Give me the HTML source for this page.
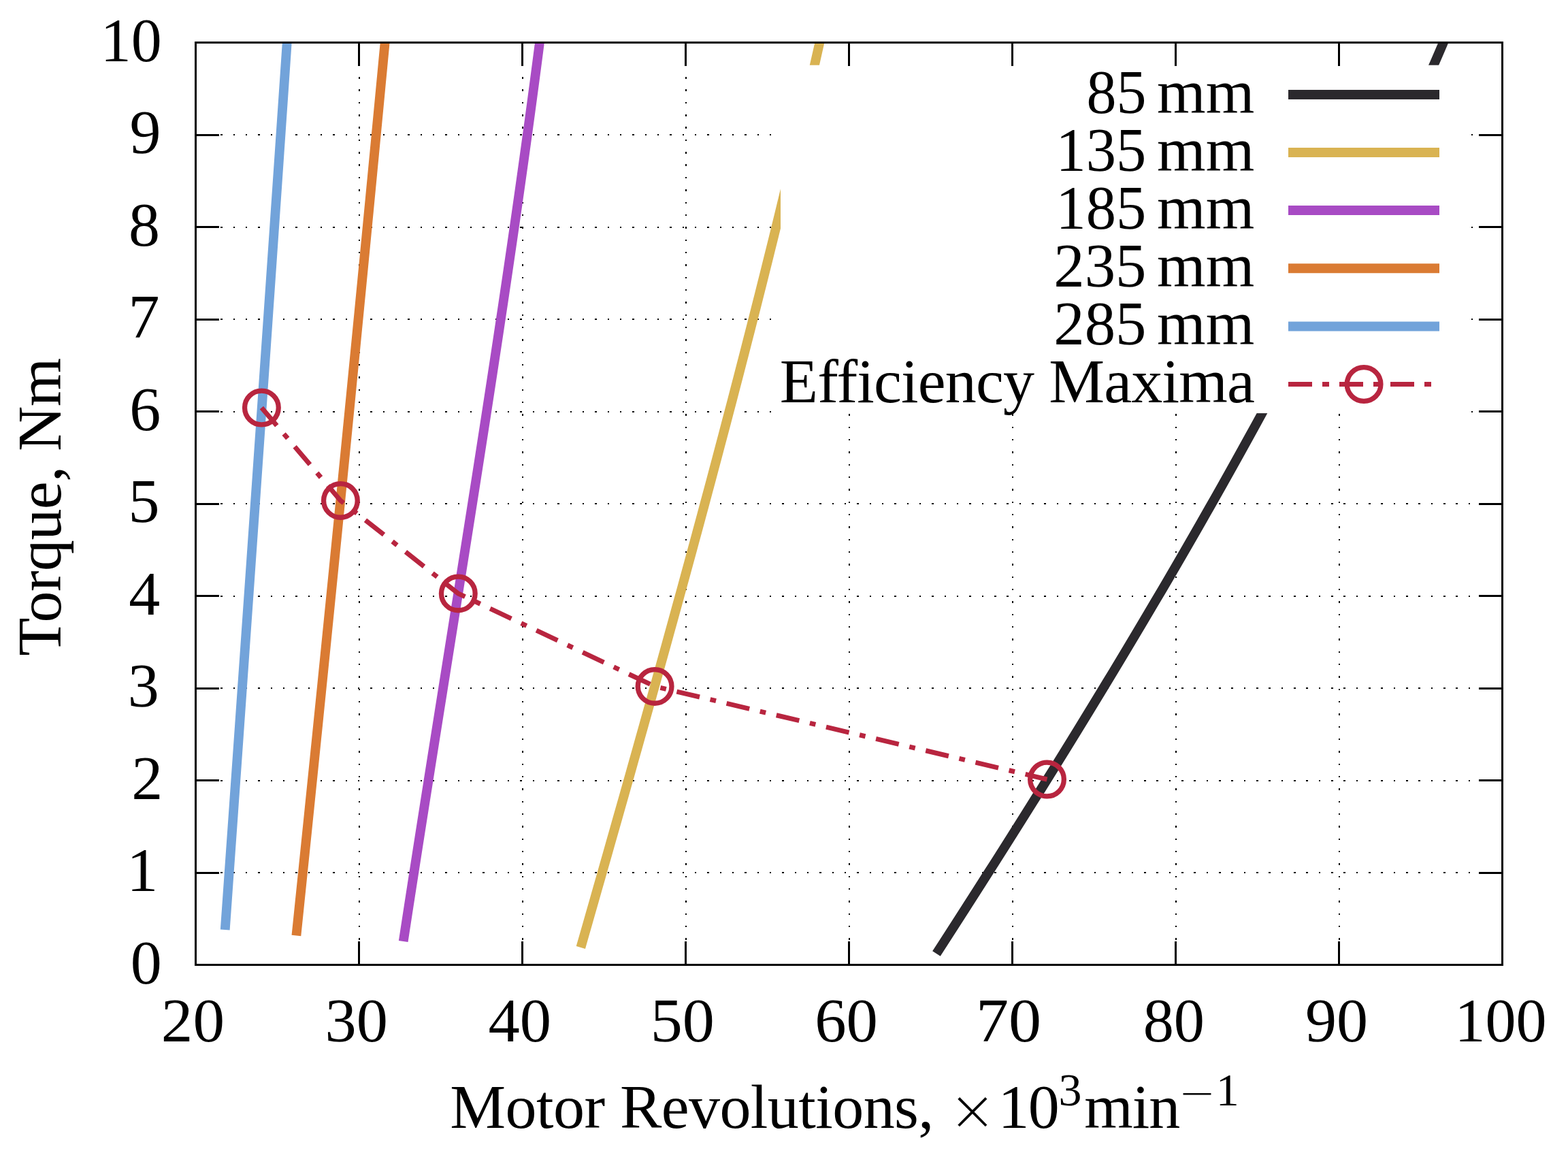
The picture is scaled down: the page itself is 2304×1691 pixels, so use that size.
<!DOCTYPE html>
<html><head><meta charset="utf-8"><title>Torque vs Motor Revolutions</title>
<style>html,body{margin:0;padding:0;background:#fff;}body{width:2304px;height:1691px;}svg{display:block;}</style>
</head><body>
<svg width="2304" height="1691" viewBox="0 0 2304 1691">
<defs><clipPath id="pa"><rect x="287.5" y="62.5" width="1920" height="1355"/></clipPath></defs>
<rect width="2304" height="1691" fill="#ffffff"/>
<path d="M287.5 1418.00H2207.5 M287.5 1282.00H2207.5 M287.5 1147.00H2207.5 M287.5 1011.00H2207.5 M287.5 876.00H2207.5 M287.5 740.00H2207.5 M287.5 605.00H1147 M2161.5 605.00H2207.5 M287.5 469.00H1147 M2161.5 469.00H2207.5 M287.5 334.00H1147 M2161.5 334.00H2207.5 M287.5 198.00H1147 M2161.5 198.00H2207.5 M287.5 63.00H2207.5 M288.00 1417.5V62.5 M528.00 1417.5V62.5 M768.00 1417.5V62.5 M1008.00 1417.5V62.5 M1248.00 1417.5V62.5 M1488.00 1417.5V62.5 M1728.00 1417.5V62.5 M1968.00 1417.5V62.5 M2208.00 1417.5V62.5" stroke="#000" stroke-width="2" stroke-dasharray="2.5 15.836" fill="none" shape-rendering="crispEdges"/>
<g clip-path="url(#pa)"><path d="M330.72 1366.00 L331.91 1349.22 L333.11 1332.43 L334.30 1315.65 L335.50 1298.86 L336.69 1282.08 L337.88 1265.29 L339.07 1248.51 L340.26 1231.72 L341.46 1214.94 L342.65 1198.15 L343.83 1181.37 L345.02 1164.58 L346.21 1147.80 L347.40 1131.01 L348.59 1114.23 L349.77 1097.44 L350.96 1080.66 L352.14 1063.87 L353.33 1047.09 L354.51 1030.30 L355.69 1013.52 L356.88 996.73 L358.06 979.95 L359.24 963.16 L360.42 946.38 L361.60 929.59 L362.78 912.81 L363.96 896.03 L365.14 879.24 L366.32 862.46 L367.49 845.67 L368.67 828.89 L369.85 812.10 L371.02 795.32 L372.20 778.53 L373.37 761.75 L374.54 744.96 L375.72 728.18 L376.89 711.39 L378.06 694.61 L379.23 677.82 L380.40 661.04 L381.57 644.25 L382.74 627.47 L383.91 610.68 L385.08 593.90 L386.25 577.11 L387.41 560.33 L388.58 543.54 L389.74 526.76 L390.91 509.97 L392.07 493.19 L393.24 476.41 L394.40 459.62 L395.56 442.84 L396.73 426.05 L397.89 409.27 L399.05 392.48 L400.21 375.70 L401.37 358.91 L402.53 342.13 L403.69 325.34 L404.84 308.56 L406.00 291.77 L407.16 274.99 L408.31 258.20 L409.47 241.42 L410.62 224.63 L411.78 207.85 L412.93 191.06 L414.08 174.28 L415.24 157.49 L416.39 140.71 L417.54 123.92 L418.69 107.14 L419.84 90.35 L420.99 73.57 L422.14 56.78 L423.29 40.00" stroke="#72a3da" stroke-width="13.8" fill="none" stroke-linejoin="round" stroke-linecap="butt"/><path d="M435.40 1374.50 L437.15 1357.61 L438.90 1340.72 L440.65 1323.82 L442.39 1306.93 L444.13 1290.04 L445.88 1273.15 L447.62 1256.25 L449.35 1239.36 L451.09 1222.47 L452.82 1205.58 L454.55 1188.68 L456.28 1171.79 L458.01 1154.90 L459.74 1138.01 L461.46 1121.11 L463.18 1104.22 L464.90 1087.33 L466.62 1070.44 L468.34 1053.54 L470.05 1036.65 L471.77 1019.76 L473.48 1002.87 L475.18 985.97 L476.89 969.08 L478.60 952.19 L480.30 935.30 L482.00 918.41 L483.70 901.51 L485.40 884.62 L487.09 867.73 L488.78 850.84 L490.47 833.94 L492.16 817.05 L493.85 800.16 L495.54 783.27 L497.22 766.37 L498.90 749.48 L500.58 732.59 L502.26 715.70 L503.93 698.80 L505.61 681.91 L507.28 665.02 L508.95 648.13 L510.62 631.23 L512.28 614.34 L513.95 597.45 L515.61 580.56 L517.27 563.66 L518.93 546.77 L520.59 529.88 L522.24 512.99 L523.89 496.09 L525.54 479.20 L527.19 462.31 L528.84 445.42 L530.49 428.53 L532.13 411.63 L533.77 394.74 L535.41 377.85 L537.05 360.96 L538.68 344.06 L540.31 327.17 L541.95 310.28 L543.58 293.39 L545.20 276.49 L546.83 259.60 L548.45 242.71 L550.07 225.82 L551.69 208.92 L553.31 192.03 L554.93 175.14 L556.54 158.25 L558.15 141.35 L559.76 124.46 L561.37 107.57 L562.98 90.68 L564.58 73.78 L566.19 56.89 L567.79 40.00" stroke="#da7b33" stroke-width="13.8" fill="none" stroke-linejoin="round" stroke-linecap="butt"/><path d="M592.68 1383.00 L595.29 1366.00 L597.90 1349.00 L600.52 1332.00 L603.15 1315.00 L605.79 1298.00 L608.44 1281.00 L611.09 1264.00 L613.74 1247.00 L616.41 1230.00 L619.07 1213.00 L621.75 1196.00 L624.42 1179.00 L627.11 1162.00 L629.79 1145.00 L632.48 1128.00 L635.17 1111.00 L637.87 1094.00 L640.57 1077.00 L643.27 1060.00 L645.97 1043.00 L648.68 1026.00 L651.38 1009.00 L654.09 992.00 L656.79 975.00 L659.50 958.00 L662.20 941.00 L664.91 924.00 L667.61 907.00 L670.32 890.00 L673.02 873.00 L675.72 856.00 L678.41 839.00 L681.11 822.00 L683.80 805.00 L686.49 788.00 L689.17 771.00 L691.85 754.00 L694.52 737.00 L697.19 720.00 L699.86 703.00 L702.52 686.00 L705.17 669.00 L707.81 652.00 L710.45 635.00 L713.09 618.00 L715.71 601.00 L718.33 584.00 L720.94 567.00 L723.54 550.00 L726.13 533.00 L728.71 516.00 L731.29 499.00 L733.85 482.00 L736.40 465.00 L738.95 448.00 L741.48 431.00 L744.00 414.00 L746.51 397.00 L749.00 380.00 L751.49 363.00 L753.96 346.00 L756.42 329.00 L758.86 312.00 L761.29 295.00 L763.71 278.00 L766.11 261.00 L768.50 244.00 L770.87 227.00 L773.22 210.00 L775.57 193.00 L777.89 176.00 L780.20 159.00 L782.49 142.00 L784.76 125.00 L787.01 108.00 L789.25 91.00 L791.47 74.00 L793.67 57.00 L795.85 40.00" stroke="#a84bc4" stroke-width="13.8" fill="none" stroke-linejoin="round" stroke-linecap="butt"/><path d="M853.35 1392.00 L858.24 1374.89 L863.13 1357.77 L868.02 1340.66 L872.91 1323.54 L877.79 1306.43 L882.67 1289.32 L887.54 1272.20 L892.41 1255.09 L897.27 1237.97 L902.13 1220.86 L906.99 1203.75 L911.84 1186.63 L916.68 1169.52 L921.52 1152.41 L926.35 1135.29 L931.17 1118.18 L935.99 1101.06 L940.80 1083.95 L945.60 1066.84 L950.40 1049.72 L955.19 1032.61 L959.96 1015.49 L964.73 998.38 L969.49 981.27 L974.25 964.15 L978.99 947.04 L983.72 929.92 L988.44 912.81 L993.16 895.70 L997.86 878.58 L1002.55 861.47 L1007.23 844.35 L1011.90 827.24 L1016.55 810.13 L1021.20 793.01 L1025.83 775.90 L1030.45 758.78 L1035.06 741.67 L1039.65 724.56 L1044.23 707.44 L1048.80 690.33 L1053.35 673.22 L1057.89 656.10 L1062.41 638.99 L1066.92 621.87 L1071.42 604.76 L1075.90 587.65 L1080.36 570.53 L1084.81 553.42 L1089.24 536.30 L1093.65 519.19 L1098.05 502.08 L1102.43 484.96 L1106.80 467.85 L1111.14 450.73 L1115.47 433.62 L1119.78 416.51 L1124.07 399.39 L1128.34 382.28 L1132.60 365.16 L1136.83 348.05 L1141.05 330.94 L1145.24 313.82 L1149.42 296.71 L1153.57 279.59 L1157.70 262.48 L1161.82 245.37 L1165.91 228.25 L1169.98 211.14 L1174.03 194.03 L1178.05 176.91 L1182.05 159.80 L1186.04 142.68 L1189.99 125.57 L1193.93 108.46 L1197.84 91.34 L1201.73 74.23 L1205.59 57.11 L1209.43 40.00" stroke="#d9b352" stroke-width="13.8" fill="none" stroke-linejoin="round" stroke-linecap="butt"/><path d="M1375.96 1400.90 L1387.10 1383.67 L1398.21 1366.45 L1409.30 1349.22 L1420.36 1331.99 L1431.40 1314.77 L1442.42 1297.54 L1453.40 1280.31 L1464.36 1263.09 L1475.29 1245.86 L1486.19 1228.63 L1497.06 1211.41 L1507.90 1194.18 L1518.71 1176.95 L1529.49 1159.73 L1540.23 1142.50 L1550.94 1125.27 L1561.62 1108.05 L1572.27 1090.82 L1582.88 1073.59 L1593.45 1056.37 L1603.99 1039.14 L1614.49 1021.92 L1624.95 1004.69 L1635.38 987.46 L1645.76 970.24 L1656.11 953.01 L1666.41 935.78 L1676.68 918.56 L1686.90 901.33 L1697.08 884.10 L1707.22 866.88 L1717.32 849.65 L1727.37 832.42 L1737.37 815.20 L1747.33 797.97 L1757.25 780.74 L1767.11 763.52 L1776.93 746.29 L1786.70 729.06 L1796.43 711.84 L1806.10 694.61 L1815.72 677.38 L1825.29 660.16 L1834.82 642.93 L1844.28 625.70 L1853.70 608.48 L1863.06 591.25 L1872.37 574.02 L1881.62 556.80 L1890.82 539.57 L1899.96 522.34 L1909.05 505.12 L1918.07 487.89 L1927.04 470.66 L1935.95 453.44 L1944.80 436.21 L1953.60 418.98 L1962.33 401.76 L1970.99 384.53 L1979.60 367.31 L1988.15 350.08 L1996.63 332.85 L2005.04 315.63 L2013.40 298.40 L2021.68 281.17 L2029.90 263.95 L2038.06 246.72 L2046.14 229.49 L2054.16 212.27 L2062.11 195.04 L2069.99 177.81 L2077.80 160.59 L2085.54 143.36 L2093.21 126.13 L2100.81 108.91 L2108.33 91.68 L2115.78 74.45 L2123.16 57.23 L2130.46 40.00" stroke="#2b292d" stroke-width="13.8" fill="none" stroke-linejoin="round" stroke-linecap="butt"/><path d="M384.4 599.0 L500.4 735.4 L673.3 871.9 L962.1 1008.4 L1538.5 1145.0" stroke="#b8253f" stroke-width="7" fill="none" stroke-dasharray="34.5 16 8.7 16" stroke-linecap="butt" stroke-linejoin="miter"/><circle cx="384.4" cy="599.0" r="24.85" stroke="#b8253f" stroke-width="7.3" fill="none"/><circle cx="500.4" cy="735.4" r="24.85" stroke="#b8253f" stroke-width="7.3" fill="none"/><circle cx="673.3" cy="871.9" r="24.85" stroke="#b8253f" stroke-width="7.3" fill="none"/><circle cx="962.1" cy="1008.4" r="24.85" stroke="#b8253f" stroke-width="7.3" fill="none"/><circle cx="1538.5" cy="1145.0" r="24.85" stroke="#b8253f" stroke-width="7.3" fill="none"/></g>
<rect x="1147" y="95.7" width="1014.5" height="511.4" fill="#ffffff"/>
<path d="M1893 139H2115" stroke="#2b292d" stroke-width="14" fill="none"/>
<text font-family="'Liberation Serif', 'Times New Roman', serif" font-size="92" fill="#000" y="166.2"><tspan x="1596.48" textLength="87.92" lengthAdjust="spacingAndGlyphs">85</tspan><tspan x="1843.24" text-anchor="end"> mm</tspan></text>
<path d="M1893 224H2115" stroke="#d9b352" stroke-width="14" fill="none"/>
<text font-family="'Liberation Serif', 'Times New Roman', serif" font-size="92" fill="#000" y="251.05"><tspan x="1551.62" textLength="132.77" lengthAdjust="spacingAndGlyphs">135</tspan><tspan x="1843.24" text-anchor="end"> mm</tspan></text>
<path d="M1893 309.1H2115" stroke="#a84bc4" stroke-width="14" fill="none"/>
<text font-family="'Liberation Serif', 'Times New Roman', serif" font-size="92" fill="#000" y="335.9"><tspan x="1551.62" textLength="132.77" lengthAdjust="spacingAndGlyphs">185</tspan><tspan x="1843.24" text-anchor="end"> mm</tspan></text>
<path d="M1893 394.2H2115" stroke="#da7b33" stroke-width="14" fill="none"/>
<text font-family="'Liberation Serif', 'Times New Roman', serif" font-size="92" fill="#000" y="420.75"><tspan x="1548.33" textLength="136.06" lengthAdjust="spacingAndGlyphs">235</tspan><tspan x="1843.24" text-anchor="end"> mm</tspan></text>
<path d="M1893 479.6H2115" stroke="#72a3da" stroke-width="14" fill="none"/>
<text font-family="'Liberation Serif', 'Times New Roman', serif" font-size="92" fill="#000" y="505.6"><tspan x="1548.33" textLength="136.06" lengthAdjust="spacingAndGlyphs">285</tspan><tspan x="1843.24" text-anchor="end"> mm</tspan></text>
<path d="M1893 564.5H2115" stroke="#b8253f" stroke-width="6.9" fill="none" stroke-dasharray="35 15 10 15"/>
<circle cx="2004.05" cy="564.5" r="24.85" stroke="#b8253f" stroke-width="7.3" fill="none"/>
<text font-family="'Liberation Serif', 'Times New Roman', serif" font-size="92" fill="#000" x="1145.85" y="591.1" textLength="697.91" lengthAdjust="spacing">Efficiency Maxima</text>
<path d="M287.5 1417.50H322 M2207.5 1417.50H2173 M287.5 1282.50H322 M2207.5 1282.50H2173 M287.5 1146.50H322 M2207.5 1146.50H2173 M287.5 1011.50H322 M2207.5 1011.50H2173 M287.5 875.50H322 M2207.5 875.50H2173 M287.5 740.50H322 M2207.5 740.50H2173 M287.5 604.50H322 M2207.5 604.50H2173 M287.5 469.50H322 M2207.5 469.50H2173 M287.5 333.50H322 M2207.5 333.50H2173 M287.5 198.50H322 M2207.5 198.50H2173 M287.5 62.50H322 M2207.5 62.50H2173 M287.50 1417.5V1383 M287.50 62.5V97 M527.50 1417.5V1383 M527.50 62.5V97 M767.50 1417.5V1383 M767.50 62.5V97 M1007.50 1417.5V1383 M1007.50 62.5V97 M1247.50 1417.5V1383 M1247.50 62.5V97 M1487.50 1417.5V1383 M1487.50 62.5V97 M1727.50 1417.5V1383 M1727.50 62.5V97 M1967.50 1417.5V1383 M1967.50 62.5V97 M2207.50 1417.5V1383 M2207.50 62.5V97" stroke="#000" stroke-width="3" fill="none"/>
<rect x="287.5" y="62.5" width="1920" height="1355" stroke="#000" stroke-width="3" fill="none"/>
<text font-family="'Liberation Serif', 'Times New Roman', serif" font-size="92" fill="#000" x="191.73" y="1444.60">0</text>
<text font-family="'Liberation Serif', 'Times New Roman', serif" font-size="92" fill="#000" x="186.33" y="1309.10">1</text>
<text font-family="'Liberation Serif', 'Times New Roman', serif" font-size="92" fill="#000" x="193.21" y="1173.60">2</text>
<text font-family="'Liberation Serif', 'Times New Roman', serif" font-size="92" fill="#000" x="187.75" y="1038.10">3</text>
<text font-family="'Liberation Serif', 'Times New Roman', serif" font-size="92" fill="#000" x="189.30" y="902.60">4</text>
<text font-family="'Liberation Serif', 'Times New Roman', serif" font-size="92" fill="#000" x="188.38" y="767.10">5</text>
<text font-family="'Liberation Serif', 'Times New Roman', serif" font-size="92" fill="#000" x="190.24" y="631.60">6</text>
<text font-family="'Liberation Serif', 'Times New Roman', serif" font-size="92" fill="#000" x="188.43" y="496.10">7</text>
<text font-family="'Liberation Serif', 'Times New Roman', serif" font-size="92" fill="#000" x="188.93" y="360.60">8</text>
<text font-family="'Liberation Serif', 'Times New Roman', serif" font-size="92" fill="#000" x="190.46" y="225.10">9</text>
<text font-family="'Liberation Serif', 'Times New Roman', serif" font-size="92" fill="#000" x="147.86" y="89.60" textLength="89.87" lengthAdjust="spacingAndGlyphs">10</text>
<text font-family="'Liberation Serif', 'Times New Roman', serif" font-size="92" fill="#000" x="236.82" y="1530.3" textLength="93.16" lengthAdjust="spacingAndGlyphs">20</text>
<text font-family="'Liberation Serif', 'Times New Roman', serif" font-size="92" fill="#000" x="477.64" y="1530.3" textLength="92.34" lengthAdjust="spacingAndGlyphs">30</text>
<text font-family="'Liberation Serif', 'Times New Roman', serif" font-size="92" fill="#000" x="717.44" y="1530.3" textLength="92.54" lengthAdjust="spacingAndGlyphs">40</text>
<text font-family="'Liberation Serif', 'Times New Roman', serif" font-size="92" fill="#000" x="955.70" y="1530.3" textLength="94.28" lengthAdjust="spacingAndGlyphs">50</text>
<text font-family="'Liberation Serif', 'Times New Roman', serif" font-size="92" fill="#000" x="1197.27" y="1530.3" textLength="92.71" lengthAdjust="spacingAndGlyphs">60</text>
<text font-family="'Liberation Serif', 'Times New Roman', serif" font-size="92" fill="#000" x="1433.90" y="1530.3" textLength="96.09" lengthAdjust="spacingAndGlyphs">70</text>
<text font-family="'Liberation Serif', 'Times New Roman', serif" font-size="92" fill="#000" x="1679.71" y="1530.3" textLength="90.27" lengthAdjust="spacingAndGlyphs">80</text>
<text font-family="'Liberation Serif', 'Times New Roman', serif" font-size="92" fill="#000" x="1917.90" y="1530.3" textLength="92.08" lengthAdjust="spacingAndGlyphs">90</text>
<text font-family="'Liberation Serif', 'Times New Roman', serif" font-size="92" fill="#000" x="2137.48" y="1530.3" textLength="135.12" lengthAdjust="spacingAndGlyphs">100</text>
<text font-family="'Liberation Serif', 'Times New Roman', serif" font-size="92" fill="#000" x="661.35" y="1657.00" textLength="710.95" lengthAdjust="spacing">Motor Revolutions,</text>
<text font-family="'Liberation Serif', 'Times New Roman', serif" font-size="112" fill="#000" stroke="#fff" stroke-width="1.8" x="1397.21" y="1671.09">×</text>
<text font-family="'Liberation Serif', 'Times New Roman', serif" font-size="92" fill="#000" x="1466.51" y="1657.00" textLength="90.19" lengthAdjust="spacing">10</text>
<text font-family="'Liberation Serif', 'Times New Roman', serif" font-size="68" fill="#000" x="1555.45" y="1624.00">3</text>
<text font-family="'Liberation Serif', 'Times New Roman', serif" font-size="92" fill="#000" x="1593.17" y="1656.80" textLength="141.12" lengthAdjust="spacing">min</text>
<text font-family="'Liberation Serif', 'Times New Roman', serif" font-size="68" fill="#000" transform="translate(1739.00 1624.23) scale(1.293 0.75)" x="-3.39" y="0">−</text>
<text font-family="'Liberation Serif', 'Times New Roman', serif" font-size="68" fill="#000" x="1786.82" y="1624.00">1</text>
<text font-family="'Liberation Serif', 'Times New Roman', serif" font-size="92" fill="#000" transform="translate(88.7 963.66) rotate(-90)" x="0" y="0" textLength="438.10" lengthAdjust="spacing">Torque, Nm</text>
</svg>
</body></html>
